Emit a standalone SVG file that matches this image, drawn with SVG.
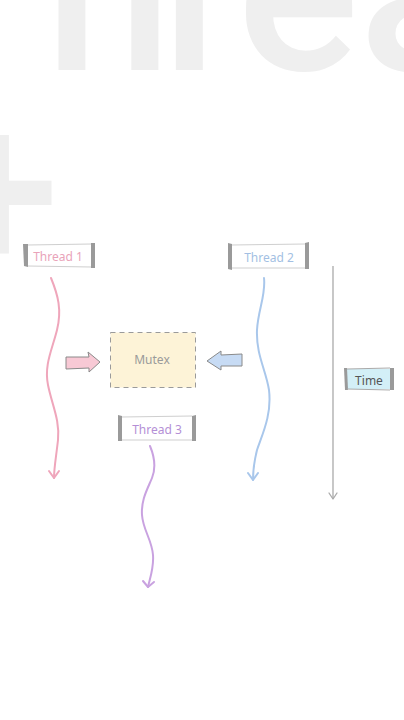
<svg xmlns="http://www.w3.org/2000/svg" width="404" height="720" viewBox="0 0 404 720">
<defs>
<style>
.bg{font-family:Roboto,"Liberation Sans",sans-serif;font-weight:500;font-size:228px;fill:#efefef}
.lbl{font-family:"Noto Sans","Liberation Sans",sans-serif;font-size:12px;text-anchor:middle}
.bar{fill:#9a9a9a}
.wave{fill:none;stroke-width:2;stroke-linecap:round;stroke-linejoin:round}
.head{fill:none;stroke-width:2;stroke-linecap:round;stroke-linejoin:round}
.rim{stroke:#cfcfcf;stroke-width:1;fill:none}
</style>
</defs>
<rect width="404" height="720" fill="#fff"/>
<g id="background-title">
<text class="bg" y="70"><tspan x="-87">T</tspan><tspan x="45">h</tspan><tspan x="162">r</tspan><tspan x="237">e</tspan><tspan x="359">a</tspan></text>
<text class="bg" x="-67" y="270">+</text>
</g>
<g id="connectors">
<path class="wave" stroke="#efa6bb" d="M51,278 C58,295 62,310 57,330 C52,350 44,365 48,385 C52,405 60,420 58,440 C56,458 54,468 54,478"/>
<path class="head" stroke="#efa6bb" d="M49,471 L54,478 L59,471"/>
<path class="wave" stroke="#a9c7eb" d="M264,278 C266,295 258,310 257,330 C256,355 266,370 269,390 C272,415 262,435 257,450 C254,462 253,470 253,480"/>
<path class="head" stroke="#a9c7eb" d="M248,473 L253,480 L258,473"/>
<path class="wave" stroke="#c9a2e0" d="M150,446 C155,458 156,468 152,478 C147,490 141,500 142,515 C143,530 152,540 153,555 C154,568 150,578 148,587"/>
<path class="head" stroke="#c9a2e0" d="M143,581 L148,587 L154,582"/>
<path d="M333,266 L333,499" stroke="#aaaaaa" stroke-width="1.3" fill="none"/>
<path d="M329,493 L333,499 L337,493" fill="none" stroke="#aaaaaa" stroke-width="1.3" stroke-linecap="round" stroke-linejoin="round"/>
<path d="M66,357 L89,357 L88,352 L100,362 L89,372 L89,368 L66,369 Z" fill="#f8c9d5" stroke="#8a8a8a" stroke-width="1"/>
<path d="M242,354 L221,355 L221,351 L207,361 L221,370 L221,366 L242,366 Z" fill="#c7dbf4" stroke="#8a8a8a" stroke-width="1"/>
</g>
<g id="thread1">
<rect x="27" y="245" width="66" height="22" fill="#fff"/>
<path d="M23,244 L28,244 L28,267 L24,266 Z" class="bar"/>
<path d="M91,243 L95,243 L95,268 L91,268 Z" class="bar"/>
<path d="M28,245 L91,244 M28,266 L91,267" class="rim"/>
<text class="lbl" x="58" y="261" fill="#e9a3b9">Thread 1</text>
</g>
<g id="thread2">
<rect x="232" y="245" width="73" height="23" fill="#fff"/>
<path d="M228,243 L232,244 L232,270 L228,269 Z" class="bar"/>
<path d="M305,243 L309,242 L309,269 L305,269 Z" class="bar"/>
<path d="M232,245 L305,244 M232,268 L305,268" class="rim"/>
<text class="lbl" x="269" y="262" fill="#a3bfe3">Thread 2</text>
</g>
<g id="mutex">
<rect x="110.5" y="332.5" width="85" height="55" fill="#fdf3d7" stroke="#9a9a9a" stroke-width="1" stroke-dasharray="5 4"/>
<text class="lbl" x="152" y="364" fill="#9a9a9a">Mutex</text>
</g>
<g id="thread3">
<rect x="122" y="417" width="70" height="23" fill="#fff"/>
<path d="M118,415 L122,416 L122,441 L118,441 Z" class="bar"/>
<path d="M192,416 L196,415 L196,441 L192,441 Z" class="bar"/>
<path d="M122,417 L192,416 M122,440 L192,440" class="rim"/>
<text class="lbl" x="157" y="434" fill="#b48fd6">Thread 3</text>
</g>
<g id="time">
<rect x="347" y="369" width="43" height="20" fill="#d3eff7"/>
<path d="M344,368 L347,368 L348,390 L345,390 Z" class="bar"/>
<path d="M390,368 L394,368 L394,390 L390,390 Z" class="bar"/>
<path d="M347,369 L390,368 M347,389 L390,390" stroke="#aaaaaa" stroke-width="1"/>
<text class="lbl" x="369" y="385" fill="#555">Time</text>
</g>
</svg>
